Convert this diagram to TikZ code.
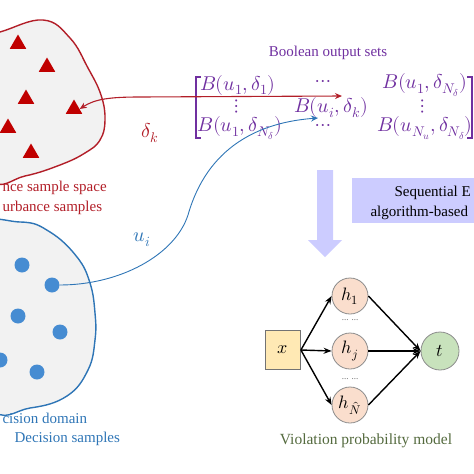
\documentclass[tikz,border=0pt]{standalone}
\usepackage{amsmath}
\usepackage{amssymb}
\usepackage{fontspec}
\usepackage{unicode-math}
\setmainfont{Liberation Serif}
\setmathfont{Latin Modern Math}
\usepackage{tikz}
\usetikzlibrary{calc,arrows.meta,shapes.geometric}
\definecolor{trired}{RGB}{192,0,0}
\definecolor{darkr}{RGB}{178,30,40}
\definecolor{blueln}{RGB}{46,117,182}
\definecolor{dotblue}{RGB}{70,140,210}
\definecolor{purp}{RGB}{112,48,160}
\definecolor{lav}{RGB}{204,204,255}
\definecolor{blobgray}{RGB}{242,242,242}
\definecolor{xfill}{RGB}{255,233,180}
\definecolor{hfill}{RGB}{250,222,205}
\definecolor{tfill}{RGB}{200,226,188}
\definecolor{modelg}{RGB}{84,106,62}

\begin{document}
\begin{tikzpicture}[x=1pt,y=-1pt,
    tri/.style={regular polygon,regular polygon sides=3,fill=trired,inner sep=0pt,minimum size=19pt},
    dot/.style={circle,fill=dotblue,inner sep=0pt,minimum size=15pt},
    entry/.style={text=purp,inner sep=0pt,font=\fontsize{20}{22}\selectfont},
    hid/.style={circle,draw=black!45,fill=hfill,line width=0.8pt,minimum size=36pt,inner sep=0pt,font=\fontsize{18}{20}\selectfont},
    lbl/.style={font=\fontsize{15}{17}\selectfont},
    net/.style={-{Stealth[length=8pt,width=6pt]},line width=1.4pt}]
  \useasboundingbox (0,0) rectangle (474,474);
  \clip (0,0) rectangle (474,474);

  % disturbance sample space
  \draw[darkr,fill=blobgray,line width=1.4pt] plot[smooth cycle,tension=0.7] coordinates {(-30,40) (0,32) (43,20) (70,38) (88,68) (101,95) (105,120) (100,140) (85,153) (60,165) (25,176) (-10,180) (-40,120)};
  \node[tri] (t1) at (18,44) {};
  \node[tri] (t2) at (47,67) {};
  \node[tri] (t3) at (26,99) {};
  \node[tri] (t4) at (74,109) {};
  \node[tri] (t5) at (8,128) {};
  \node[tri] (t6) at (31,153) {};
  \node[lbl,text=darkr,anchor=west] (dss) at (-1,188) {nce sample space};
  \node[lbl,text=darkr,anchor=west] (dsm) at (-1,208) {urbance samples};

  % decision domain
  \draw[blueln,fill=blobgray,line width=1.4pt] plot[smooth cycle,tension=0.7] coordinates {(-30,230) (20,222) (50,232) (77,257) (90,283) (95,313) (95,340) (88,370) (67,396) (30,408) (-10,407) (-40,320)};
  \node[dot] (d1) at (22,265) {};
  \node[dot] (d2) at (52,285) {};
  \node[dot] (d3) at (18,316) {};
  \node[dot] (d4) at (60,332) {};
  \node[dot] (d5) at (0,360) {};
  \node[dot] (d6) at (37,372) {};
  \node[lbl,text=blueln,anchor=west] (ddm) at (-1,418) {cision domain};
  \node[lbl,text=blueln,anchor=west] (dsp) at (11,439) {Decision samples};

  % Boolean output sets
  \node[lbl,text=purp] (bos) at (328,53) {Boolean output sets};
  \node[entry] (b11) at (238,85) {$B(u_1,\delta_1)$};
  \node[entry] (b12) at (323,83) {$\cdots$};
  \node[entry] (b13) at (425,85) {$B(u_1,\delta_{N_\delta})$};
  \node[entry] (b21) at (237,106) {$\vdots$};
  \node[entry] (bik) at (331,108) {$B(u_i,\delta_k)$};
  \node[entry] (b23) at (423,106) {$\vdots$};
  \node[entry] (b31) at (240,128) {$B(u_1,\delta_{N_\delta})$};
  \node[entry] (b32) at (323,127) {$\cdots$};
  \node[entry] (b33) at (425,128) {$B(u_{N_u},\delta_{N_\delta})$};
  \draw[purp,line width=1.5pt] (201,77) -- (196,77) -- (196,138) -- (201,138);
  \draw[purp,line width=1.5pt] (467,77) -- (472,77) -- (472,138) -- (467,138);

  % sample connectors
  \coordinate (dk) at (342,96);
  \coordinate (ui) at (318,118);
  \draw[darkr,line width=1.1pt,{Stealth[length=7pt,width=6pt]}-{Stealth[length=7pt,width=6pt]}] (t4.east) .. controls (95,99) and (110,97) .. (140,97) -- (dk);
  \draw[blueln,line width=0.9pt,-{Stealth[length=7pt,width=6pt]}] (d2.east) .. controls (120,285) and (175,255) .. (188,215) .. controls (198,180) and (225,125) .. (ui);
  \node[text=darkr,font=\fontsize{20}{22}\selectfont] (dkl) at (150,133) {$\delta_k$};
  \node[text=blueln,font=\fontsize{20}{22}\selectfont] (uil) at (142,240) {$u_i$};

  % learning step
  \fill[lav] (317,170) -- (333,170) -- (333,240) -- (342,240) -- (325,257) -- (308,240) -- (317,240) -- cycle;
  \fill[lav] (352,178) rectangle (480,223);
  \node[lbl,anchor=west] (seq) at (391,193) {Sequential E};
  \node[lbl,anchor=west] (alg) at (367,213) {algorithm-based};

  % violation probability model
  \node[draw=black!55,fill=xfill,line width=0.8pt,minimum width=35pt,minimum height=39pt,font=\fontsize{18}{20}\selectfont] (x) at (283,350) {$x$};
  \node[hid] (h1) at (350,296) {$h_1$};
  \node[hid] (hj) at (350,351) {$h_j$};
  \node[hid] (hn) at (350,405) {$h_{\hat N}$};
  \node[hid,fill=tfill,minimum size=38pt] (t) at (440,351) {$t$};
  \node[text=black!60,font=\fontsize{9}{10}\selectfont] (e1) at (350,320) {... ...};
  \node[text=black!60,font=\fontsize{9}{10}\selectfont] (e2) at (350,379) {... ...};
  \draw[net] (x.east) -- (h1.west);
  \draw[net] (x.east) -- (hj.west);
  \draw[net] (x.east) -- (hn.west);
  \draw[net] (h1.east) -- (t.west);
  \draw[net] (hj.east) -- (t.west);
  \draw[net] (hn.east) -- (t.west);
  \node[font=\fontsize{15.5}{17}\selectfont,text=modelg] (vpm) at (366,441) {Violation probability model};
\end{tikzpicture}
\end{document}
